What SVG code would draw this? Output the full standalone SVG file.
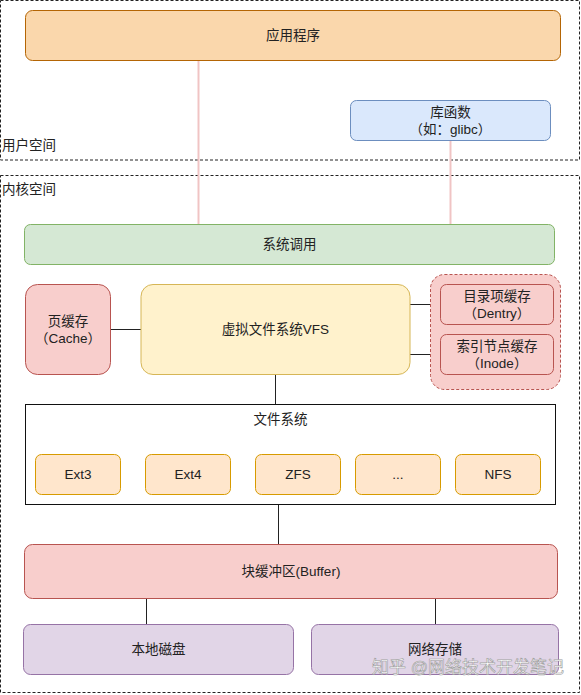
<svg xmlns="http://www.w3.org/2000/svg" width="581" height="695" viewBox="0 0 581 695">
<style>
text{font-family:"Liberation Sans","Noto Sans CJK SC",sans-serif;font-size:13.5px;fill:#222;text-anchor:middle;dominant-baseline:central}
.zone{fill:none;stroke:#222;stroke-width:1;stroke-dasharray:3 2}
.zl{text-anchor:start}
.ln{stroke:#222;stroke-width:1;fill:none}
.pk{stroke:#f0c4c4;stroke-width:2;fill:none}
.or{fill:#fad7ac;stroke:#b46504}
.bl{fill:#dae8fc;stroke:#6c8ebf}
.gr{fill:#d5e8d4;stroke:#82b366}
.rd{fill:#f8cecc;stroke:#b85450}
.ye{fill:#fff2cc;stroke:#d6b656}
.fs{fill:#ffe6cc;stroke:#d79b00}
.pu{fill:#e1d5e7;stroke:#9673a6}
</style>
<g id="user-space">
<rect class="zone" x="0.5" y="0.5" width="579" height="159.5"/>
<text class="zl" x="2" y="145">用户空间</text>
</g>
<g id="kernel-space">
<rect class="zone" x="0.5" y="175.5" width="579" height="517"/>
<text class="zl" x="2" y="189">内核空间</text>
</g>
<g id="connectors">
<line class="pk" x1="198.5" y1="60" x2="198.5" y2="224"/>
<line class="pk" x1="450.5" y1="140" x2="450.5" y2="224"/>
<line class="ln" x1="110" y1="329.5" x2="141" y2="329.5"/>
<line class="ln" x1="410" y1="304.5" x2="440" y2="304.5"/>
<line class="ln" x1="410" y1="354.5" x2="440" y2="354.5"/>
<line class="ln" x1="275.5" y1="374" x2="275.5" y2="404"/>
<line class="ln" x1="278.5" y1="504" x2="278.5" y2="544"/>
<line class="ln" x1="146.5" y1="598" x2="146.5" y2="624"/>
<line class="ln" x1="435.5" y1="598" x2="435.5" y2="624"/>
</g>
<g id="app"><rect class="or" x="25.5" y="10.5" width="535" height="50" rx="7"/><text x="293" y="35.5">应用程序</text></g>
<g id="libc"><rect class="bl" x="350.5" y="100.5" width="200" height="40" rx="6"/><text x="450.5" y="112">库函数</text><text x="450.5" y="129">（如：glibc）</text></g>
<g id="syscall"><rect class="gr" x="24.5" y="224.5" width="530" height="40" rx="6"/><text x="289.5" y="244">系统调用</text></g>
<g id="page-cache"><rect class="rd" x="25.5" y="284.5" width="85" height="90" rx="12"/><text x="68" y="321">页缓存</text><text x="68" y="338">（Cache）</text></g>
<g id="vfs"><rect class="ye" x="141" y="284.5" width="269" height="90" rx="12"/><text x="275.5" y="329.5">虚拟文件系统VFS</text></g>
<g id="cache-group"><rect x="430.5" y="274.5" width="130" height="115" rx="14" fill="#f8cecc" stroke="#b85450" stroke-dasharray="3 2"/></g>
<g id="dentry"><rect class="rd" x="440.5" y="284.5" width="113" height="40" rx="6"/><text x="497" y="296">目录项缓存</text><text x="497" y="313">（Dentry）</text></g>
<g id="inode"><rect class="rd" x="440.5" y="334.5" width="113" height="40" rx="6"/><text x="497" y="346">索引节点缓存</text><text x="497" y="363">（Inode）</text></g>
<g id="filesystems"><rect x="25.5" y="404.5" width="530" height="100" fill="#fff" stroke="#111"/><text x="280.5" y="419">文件系统</text></g>
<g id="ext3"><rect class="fs" x="35.5" y="454.5" width="85" height="40" rx="6"/><text x="78" y="474.5">Ext3</text></g>
<g id="ext4"><rect class="fs" x="145.5" y="454.5" width="85" height="40" rx="6"/><text x="188" y="474.5">Ext4</text></g>
<g id="zfs"><rect class="fs" x="255.5" y="454.5" width="85" height="40" rx="6"/><text x="298" y="474.5">ZFS</text></g>
<g id="etc"><rect class="fs" x="355.5" y="454.5" width="85" height="40" rx="6"/><text x="398" y="474.5">...</text></g>
<g id="nfs"><rect class="fs" x="455.5" y="454.5" width="85" height="40" rx="6"/><text x="498" y="474.5">NFS</text></g>
<g id="buffer"><rect class="rd" x="24.5" y="544.5" width="533" height="54" rx="8"/><text x="291" y="571.5">块缓冲区(Buffer)</text></g>
<g id="local-disk"><rect class="pu" x="23.5" y="624.5" width="270" height="50" rx="7"/><text x="158.5" y="649.5">本地磁盘</text></g>
<g id="net-storage"><rect class="pu" x="311.5" y="624.5" width="247" height="50" rx="7"/><text x="435" y="649.5">网络存储</text></g>
<g id="watermark"><text x="468" y="667" style="font-size:17px;fill:#fff;stroke:#999;stroke-width:0.6">知乎 @网络技术开发笔记</text></g>
</svg>
